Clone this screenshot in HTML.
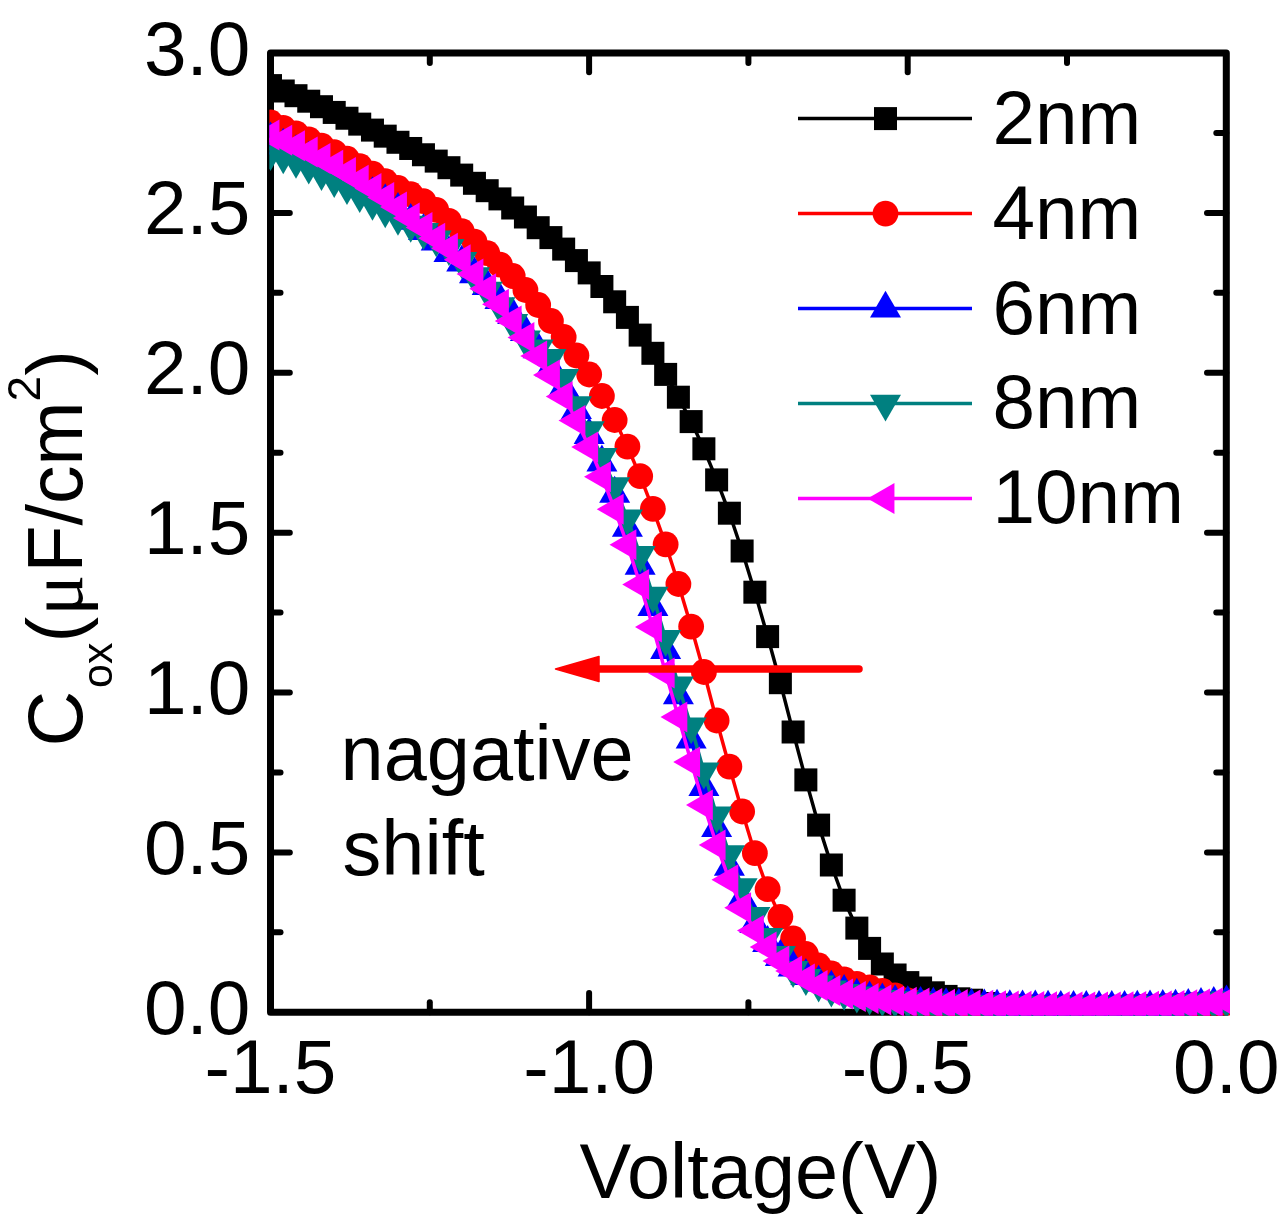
<!DOCTYPE html>
<html><head><meta charset="utf-8"><style>html,body{margin:0;padding:0;background:#fff;width:1280px;height:1216px;overflow:hidden}svg{display:block}</style></head>
<body><svg width="1280" height="1216" viewBox="0 0 1280 1216">
<defs><clipPath id="pc"><rect x="269.3" y="49" width="960.7" height="966.8"/></clipPath></defs>
<rect width="1280" height="1216" fill="#fff"/>
<g stroke="#000" stroke-width="6.0" stroke-linecap="round"><line x1="270.5" y1="932.36" x2="280.50" y2="932.36"/><line x1="1226.3" y1="932.36" x2="1216.30" y2="932.36"/><line x1="270.5" y1="852.42" x2="289.80" y2="852.42"/><line x1="1226.3" y1="852.42" x2="1207.00" y2="852.42"/><line x1="270.5" y1="772.48" x2="280.50" y2="772.48"/><line x1="1226.3" y1="772.48" x2="1216.30" y2="772.48"/><line x1="270.5" y1="692.53" x2="289.80" y2="692.53"/><line x1="1226.3" y1="692.53" x2="1207.00" y2="692.53"/><line x1="270.5" y1="612.59" x2="280.50" y2="612.59"/><line x1="1226.3" y1="612.59" x2="1216.30" y2="612.59"/><line x1="270.5" y1="532.65" x2="289.80" y2="532.65"/><line x1="1226.3" y1="532.65" x2="1207.00" y2="532.65"/><line x1="270.5" y1="452.71" x2="280.50" y2="452.71"/><line x1="1226.3" y1="452.71" x2="1216.30" y2="452.71"/><line x1="270.5" y1="372.77" x2="289.80" y2="372.77"/><line x1="1226.3" y1="372.77" x2="1207.00" y2="372.77"/><line x1="270.5" y1="292.83" x2="280.50" y2="292.83"/><line x1="1226.3" y1="292.83" x2="1216.30" y2="292.83"/><line x1="270.5" y1="212.88" x2="289.80" y2="212.88"/><line x1="1226.3" y1="212.88" x2="1207.00" y2="212.88"/><line x1="270.5" y1="132.94" x2="280.50" y2="132.94"/><line x1="1226.3" y1="132.94" x2="1216.30" y2="132.94"/><line x1="429.80" y1="1012.3" x2="429.80" y2="1002.30"/><line x1="429.80" y1="53.0" x2="429.80" y2="63.00"/><line x1="589.10" y1="1012.3" x2="589.10" y2="993.00"/><line x1="589.10" y1="53.0" x2="589.10" y2="72.30"/><line x1="748.40" y1="1012.3" x2="748.40" y2="1002.30"/><line x1="748.40" y1="53.0" x2="748.40" y2="63.00"/><line x1="907.70" y1="1012.3" x2="907.70" y2="993.00"/><line x1="907.70" y1="53.0" x2="907.70" y2="72.30"/><line x1="1067.00" y1="1012.3" x2="1067.00" y2="1002.30"/><line x1="1067.00" y1="53.0" x2="1067.00" y2="63.00"/></g>
<rect x="270.5" y="53.0" width="955.8" height="959.3" fill="none" stroke="#000" stroke-width="7.0" stroke-linejoin="round"/>
<g clip-path="url(#pc)"><g fill="#000000"><polyline points="270.50,85.60 283.25,91.00 295.99,95.70 308.74,101.20 321.49,106.70 334.23,112.43 346.98,118.24 359.73,124.13 372.47,130.10 385.22,136.15 397.97,142.28 410.71,148.48 423.46,154.75 436.21,161.10 448.95,167.70 461.70,175.10 474.45,183.30 487.19,190.70 499.94,198.90 512.69,208.00 525.43,217.00 538.18,227.70 550.93,237.60 563.67,249.10 576.42,260.60 589.17,272.90 601.91,286.50 614.66,301.80 627.41,317.40 640.15,335.10 652.90,353.30 665.65,374.40 678.39,397.20 691.14,421.60 703.89,448.80 716.63,479.90 729.38,513.20 742.13,551.00 754.87,592.20 767.62,636.60 780.37,682.70 793.11,732.00 805.86,779.90 818.61,825.10 831.35,865.00 844.10,900.20 856.85,928.10 869.59,948.40 882.34,964.00 895.09,975.00 907.83,982.60 920.58,988.00 933.33,992.80 946.07,996.40 958.82,998.80 971.57,1000.20 984.31,1003.50 997.06,1005.00 1009.81,1006.00 1022.55,1006.23 1035.30,1006.38 1048.05,1006.47 1060.79,1006.50 1073.54,1006.50 1086.29,1006.50 1099.03,1006.50 1111.78,1006.50 1124.53,1006.41 1137.27,1006.17 1150.02,1005.85 1162.77,1005.50 1175.51,1005.10 1188.26,1004.58 1201.01,1004.00 1213.75,1003.31 1226.50,1002.50" fill="none" stroke="#000000" stroke-width="3.5" stroke-linejoin="round"/><rect x="259.00" y="74.10" width="23.00" height="23.00"/><rect x="271.75" y="79.50" width="23.00" height="23.00"/><rect x="284.49" y="84.20" width="23.00" height="23.00"/><rect x="297.24" y="89.70" width="23.00" height="23.00"/><rect x="309.99" y="95.20" width="23.00" height="23.00"/><rect x="322.73" y="100.93" width="23.00" height="23.00"/><rect x="335.48" y="106.74" width="23.00" height="23.00"/><rect x="348.23" y="112.63" width="23.00" height="23.00"/><rect x="360.97" y="118.60" width="23.00" height="23.00"/><rect x="373.72" y="124.65" width="23.00" height="23.00"/><rect x="386.47" y="130.78" width="23.00" height="23.00"/><rect x="399.21" y="136.98" width="23.00" height="23.00"/><rect x="411.96" y="143.25" width="23.00" height="23.00"/><rect x="424.71" y="149.60" width="23.00" height="23.00"/><rect x="437.45" y="156.20" width="23.00" height="23.00"/><rect x="450.20" y="163.60" width="23.00" height="23.00"/><rect x="462.95" y="171.80" width="23.00" height="23.00"/><rect x="475.69" y="179.20" width="23.00" height="23.00"/><rect x="488.44" y="187.40" width="23.00" height="23.00"/><rect x="501.19" y="196.50" width="23.00" height="23.00"/><rect x="513.93" y="205.50" width="23.00" height="23.00"/><rect x="526.68" y="216.20" width="23.00" height="23.00"/><rect x="539.43" y="226.10" width="23.00" height="23.00"/><rect x="552.17" y="237.60" width="23.00" height="23.00"/><rect x="564.92" y="249.10" width="23.00" height="23.00"/><rect x="577.67" y="261.40" width="23.00" height="23.00"/><rect x="590.41" y="275.00" width="23.00" height="23.00"/><rect x="603.16" y="290.30" width="23.00" height="23.00"/><rect x="615.91" y="305.90" width="23.00" height="23.00"/><rect x="628.65" y="323.60" width="23.00" height="23.00"/><rect x="641.40" y="341.80" width="23.00" height="23.00"/><rect x="654.15" y="362.90" width="23.00" height="23.00"/><rect x="666.89" y="385.70" width="23.00" height="23.00"/><rect x="679.64" y="410.10" width="23.00" height="23.00"/><rect x="692.39" y="437.30" width="23.00" height="23.00"/><rect x="705.13" y="468.40" width="23.00" height="23.00"/><rect x="717.88" y="501.70" width="23.00" height="23.00"/><rect x="730.63" y="539.50" width="23.00" height="23.00"/><rect x="743.37" y="580.70" width="23.00" height="23.00"/><rect x="756.12" y="625.10" width="23.00" height="23.00"/><rect x="768.87" y="671.20" width="23.00" height="23.00"/><rect x="781.61" y="720.50" width="23.00" height="23.00"/><rect x="794.36" y="768.40" width="23.00" height="23.00"/><rect x="807.11" y="813.60" width="23.00" height="23.00"/><rect x="819.85" y="853.50" width="23.00" height="23.00"/><rect x="832.60" y="888.70" width="23.00" height="23.00"/><rect x="845.35" y="916.60" width="23.00" height="23.00"/><rect x="858.09" y="936.90" width="23.00" height="23.00"/><rect x="870.84" y="952.50" width="23.00" height="23.00"/><rect x="883.59" y="963.50" width="23.00" height="23.00"/><rect x="896.33" y="971.10" width="23.00" height="23.00"/><rect x="909.08" y="976.50" width="23.00" height="23.00"/><rect x="921.83" y="981.30" width="23.00" height="23.00"/><rect x="934.57" y="984.90" width="23.00" height="23.00"/><rect x="947.32" y="987.30" width="23.00" height="23.00"/><rect x="960.07" y="988.70" width="23.00" height="23.00"/><rect x="972.81" y="992.00" width="23.00" height="23.00"/><rect x="985.56" y="993.50" width="23.00" height="23.00"/><rect x="998.31" y="994.50" width="23.00" height="23.00"/><rect x="1011.05" y="994.73" width="23.00" height="23.00"/><rect x="1023.80" y="994.88" width="23.00" height="23.00"/><rect x="1036.55" y="994.97" width="23.00" height="23.00"/><rect x="1049.29" y="995.00" width="23.00" height="23.00"/><rect x="1062.04" y="995.00" width="23.00" height="23.00"/><rect x="1074.79" y="995.00" width="23.00" height="23.00"/><rect x="1087.53" y="995.00" width="23.00" height="23.00"/><rect x="1100.28" y="995.00" width="23.00" height="23.00"/><rect x="1113.03" y="994.91" width="23.00" height="23.00"/><rect x="1125.77" y="994.67" width="23.00" height="23.00"/><rect x="1138.52" y="994.35" width="23.00" height="23.00"/><rect x="1151.27" y="994.00" width="23.00" height="23.00"/><rect x="1164.01" y="993.60" width="23.00" height="23.00"/><rect x="1176.76" y="993.08" width="23.00" height="23.00"/><rect x="1189.51" y="992.50" width="23.00" height="23.00"/><rect x="1202.25" y="991.81" width="23.00" height="23.00"/><rect x="1215.00" y="991.00" width="23.00" height="23.00"/></g><g fill="#ff0000"><polyline points="270.50,122.50 283.25,127.83 295.99,133.48 308.74,139.42 321.49,145.62 334.23,152.04 346.98,158.76 359.73,166.08 372.47,173.67 385.22,181.14 397.97,188.01 410.71,194.27 423.46,201.04 436.21,209.78 448.95,220.86 461.70,231.15 474.45,241.60 487.19,253.17 499.94,264.55 512.69,276.00 525.43,290.00 538.18,305.00 550.93,321.00 563.67,337.00 576.42,355.50 589.17,374.50 601.91,396.00 614.66,420.00 627.41,446.60 640.15,476.20 652.90,508.80 665.65,544.30 678.39,584.00 691.14,626.60 703.89,672.00 716.63,720.50 729.38,766.60 742.13,811.50 754.87,853.20 767.62,889.20 780.37,916.80 793.11,938.50 805.86,954.00 818.61,965.50 831.35,973.50 844.10,979.50 856.85,984.00 869.59,987.50 882.34,991.00 895.09,995.50 907.83,1000.50 920.58,1002.65 933.33,1004.00 946.07,1005.09 958.82,1005.96 971.57,1006.50 984.31,1006.82 997.06,1007.10 1009.81,1007.31 1022.55,1007.45 1035.30,1007.50 1048.05,1007.50 1060.79,1007.50 1073.54,1007.50 1086.29,1007.50 1099.03,1007.50 1111.78,1007.44 1124.53,1007.29 1137.27,1007.07 1150.02,1006.79 1162.77,1006.50 1175.51,1006.13 1188.26,1005.63 1201.01,1005.00 1213.75,1004.13 1226.50,1003.00" fill="none" stroke="#ff0000" stroke-width="3.5" stroke-linejoin="round"/><circle cx="270.50" cy="122.50" r="12.90"/><circle cx="283.25" cy="127.83" r="12.90"/><circle cx="295.99" cy="133.48" r="12.90"/><circle cx="308.74" cy="139.42" r="12.90"/><circle cx="321.49" cy="145.62" r="12.90"/><circle cx="334.23" cy="152.04" r="12.90"/><circle cx="346.98" cy="158.76" r="12.90"/><circle cx="359.73" cy="166.08" r="12.90"/><circle cx="372.47" cy="173.67" r="12.90"/><circle cx="385.22" cy="181.14" r="12.90"/><circle cx="397.97" cy="188.01" r="12.90"/><circle cx="410.71" cy="194.27" r="12.90"/><circle cx="423.46" cy="201.04" r="12.90"/><circle cx="436.21" cy="209.78" r="12.90"/><circle cx="448.95" cy="220.86" r="12.90"/><circle cx="461.70" cy="231.15" r="12.90"/><circle cx="474.45" cy="241.60" r="12.90"/><circle cx="487.19" cy="253.17" r="12.90"/><circle cx="499.94" cy="264.55" r="12.90"/><circle cx="512.69" cy="276.00" r="12.90"/><circle cx="525.43" cy="290.00" r="12.90"/><circle cx="538.18" cy="305.00" r="12.90"/><circle cx="550.93" cy="321.00" r="12.90"/><circle cx="563.67" cy="337.00" r="12.90"/><circle cx="576.42" cy="355.50" r="12.90"/><circle cx="589.17" cy="374.50" r="12.90"/><circle cx="601.91" cy="396.00" r="12.90"/><circle cx="614.66" cy="420.00" r="12.90"/><circle cx="627.41" cy="446.60" r="12.90"/><circle cx="640.15" cy="476.20" r="12.90"/><circle cx="652.90" cy="508.80" r="12.90"/><circle cx="665.65" cy="544.30" r="12.90"/><circle cx="678.39" cy="584.00" r="12.90"/><circle cx="691.14" cy="626.60" r="12.90"/><circle cx="703.89" cy="672.00" r="12.90"/><circle cx="716.63" cy="720.50" r="12.90"/><circle cx="729.38" cy="766.60" r="12.90"/><circle cx="742.13" cy="811.50" r="12.90"/><circle cx="754.87" cy="853.20" r="12.90"/><circle cx="767.62" cy="889.20" r="12.90"/><circle cx="780.37" cy="916.80" r="12.90"/><circle cx="793.11" cy="938.50" r="12.90"/><circle cx="805.86" cy="954.00" r="12.90"/><circle cx="818.61" cy="965.50" r="12.90"/><circle cx="831.35" cy="973.50" r="12.90"/><circle cx="844.10" cy="979.50" r="12.90"/><circle cx="856.85" cy="984.00" r="12.90"/><circle cx="869.59" cy="987.50" r="12.90"/><circle cx="882.34" cy="991.00" r="12.90"/><circle cx="895.09" cy="995.50" r="12.90"/><circle cx="907.83" cy="1000.50" r="12.90"/><circle cx="920.58" cy="1002.65" r="12.90"/><circle cx="933.33" cy="1004.00" r="12.90"/><circle cx="946.07" cy="1005.09" r="12.90"/><circle cx="958.82" cy="1005.96" r="12.90"/><circle cx="971.57" cy="1006.50" r="12.90"/><circle cx="984.31" cy="1006.82" r="12.90"/><circle cx="997.06" cy="1007.10" r="12.90"/><circle cx="1009.81" cy="1007.31" r="12.90"/><circle cx="1022.55" cy="1007.45" r="12.90"/><circle cx="1035.30" cy="1007.50" r="12.90"/><circle cx="1048.05" cy="1007.50" r="12.90"/><circle cx="1060.79" cy="1007.50" r="12.90"/><circle cx="1073.54" cy="1007.50" r="12.90"/><circle cx="1086.29" cy="1007.50" r="12.90"/><circle cx="1099.03" cy="1007.50" r="12.90"/><circle cx="1111.78" cy="1007.44" r="12.90"/><circle cx="1124.53" cy="1007.29" r="12.90"/><circle cx="1137.27" cy="1007.07" r="12.90"/><circle cx="1150.02" cy="1006.79" r="12.90"/><circle cx="1162.77" cy="1006.50" r="12.90"/><circle cx="1175.51" cy="1006.13" r="12.90"/><circle cx="1188.26" cy="1005.63" r="12.90"/><circle cx="1201.01" cy="1005.00" r="12.90"/><circle cx="1213.75" cy="1004.13" r="12.90"/><circle cx="1226.50" cy="1003.00" r="12.90"/></g><g fill="#0000ff"><polyline points="270.50,139.42 283.25,145.62 295.99,152.04 308.74,158.76 321.49,166.08 334.23,173.67 346.98,181.14 359.73,188.01 372.47,194.27 385.22,201.04 397.97,209.78 410.71,220.86 423.46,231.15 436.21,241.60 448.95,253.17 461.70,262.60 474.45,274.40 487.19,286.10 499.94,300.00 512.69,315.00 525.43,332.03 538.18,349.36 550.93,367.66 563.67,387.65 576.42,410.10 589.17,434.95 601.91,462.51 614.66,493.77 627.41,527.89 640.15,565.70 652.90,607.08 665.65,650.00 678.39,695.30 691.14,739.60 703.89,787.00 716.63,828.10 729.38,866.80 742.13,898.90 754.87,924.00 767.62,943.00 780.37,957.00 793.11,967.60 805.86,976.00 818.61,982.60 831.35,987.60 844.10,992.00 856.85,995.66 869.59,998.50 882.34,1000.46 895.09,1002.03 907.83,1003.21 920.58,1004.00 933.33,1004.62 946.07,1005.15 958.82,1005.60 971.57,1006.00 984.31,1006.37 997.06,1006.73 1009.81,1007.05 1022.55,1007.31 1035.30,1007.50 1048.05,1007.65 1060.79,1007.78 1073.54,1007.90 1086.29,1007.97 1099.03,1008.00 1111.78,1007.95 1124.53,1007.80 1137.27,1007.58 1150.02,1007.31 1162.77,1007.00 1175.51,1006.54 1188.26,1005.84 1201.01,1005.00 1213.75,1003.90 1226.50,1002.50" fill="none" stroke="#0000ff" stroke-width="3.5" stroke-linejoin="round"/><polygon points="270.50,121.52 286.00,148.37 255.00,148.37"/><polygon points="283.25,127.72 298.75,154.56 267.75,154.56"/><polygon points="295.99,134.14 311.49,160.99 280.49,160.99"/><polygon points="308.74,140.87 324.24,167.71 293.24,167.71"/><polygon points="321.49,148.18 336.99,175.03 305.99,175.03"/><polygon points="334.23,155.77 349.73,182.62 318.73,182.62"/><polygon points="346.98,163.24 362.48,190.08 331.48,190.08"/><polygon points="359.73,170.11 375.23,196.96 344.23,196.96"/><polygon points="372.47,176.37 387.97,203.22 356.97,203.22"/><polygon points="385.22,183.15 400.72,209.99 369.72,209.99"/><polygon points="397.97,191.88 413.47,218.72 382.47,218.72"/><polygon points="410.71,202.96 426.21,229.81 395.21,229.81"/><polygon points="423.46,213.25 438.96,240.10 407.96,240.10"/><polygon points="436.21,223.70 451.71,250.55 420.71,250.55"/><polygon points="448.95,235.28 464.45,262.12 433.45,262.12"/><polygon points="461.70,244.70 477.20,271.55 446.20,271.55"/><polygon points="474.45,256.50 489.95,283.35 458.95,283.35"/><polygon points="487.19,268.20 502.69,295.05 471.69,295.05"/><polygon points="499.94,282.10 515.44,308.95 484.44,308.95"/><polygon points="512.69,297.10 528.19,323.95 497.19,323.95"/><polygon points="525.43,314.13 540.93,340.98 509.93,340.98"/><polygon points="538.18,331.46 553.68,358.30 522.68,358.30"/><polygon points="550.93,349.76 566.43,376.61 535.43,376.61"/><polygon points="563.67,369.75 579.17,396.60 548.17,396.60"/><polygon points="576.42,392.20 591.92,419.04 560.92,419.04"/><polygon points="589.17,417.06 604.67,443.90 573.67,443.90"/><polygon points="601.91,444.61 617.41,471.46 586.41,471.46"/><polygon points="614.66,475.87 630.16,502.71 599.16,502.71"/><polygon points="627.41,509.99 642.91,536.84 611.91,536.84"/><polygon points="640.15,547.80 655.65,574.65 624.65,574.65"/><polygon points="652.90,589.18 668.40,616.03 637.40,616.03"/><polygon points="665.65,632.10 681.15,658.95 650.15,658.95"/><polygon points="678.39,677.40 693.89,704.25 662.89,704.25"/><polygon points="691.14,721.70 706.64,748.55 675.64,748.55"/><polygon points="703.89,769.10 719.39,795.95 688.39,795.95"/><polygon points="716.63,810.20 732.13,837.05 701.13,837.05"/><polygon points="729.38,848.90 744.88,875.75 713.88,875.75"/><polygon points="742.13,881.00 757.63,907.85 726.63,907.85"/><polygon points="754.87,906.10 770.37,932.95 739.37,932.95"/><polygon points="767.62,925.10 783.12,951.95 752.12,951.95"/><polygon points="780.37,939.10 795.87,965.95 764.87,965.95"/><polygon points="793.11,949.70 808.61,976.55 777.61,976.55"/><polygon points="805.86,958.10 821.36,984.95 790.36,984.95"/><polygon points="818.61,964.70 834.11,991.55 803.11,991.55"/><polygon points="831.35,969.70 846.85,996.55 815.85,996.55"/><polygon points="844.10,974.10 859.60,1000.95 828.60,1000.95"/><polygon points="856.85,977.76 872.35,1004.61 841.35,1004.61"/><polygon points="869.59,980.60 885.09,1007.45 854.09,1007.45"/><polygon points="882.34,982.56 897.84,1009.41 866.84,1009.41"/><polygon points="895.09,984.13 910.59,1010.98 879.59,1010.98"/><polygon points="907.83,985.31 923.33,1012.16 892.33,1012.16"/><polygon points="920.58,986.10 936.08,1012.95 905.08,1012.95"/><polygon points="933.33,986.72 948.83,1013.57 917.83,1013.57"/><polygon points="946.07,987.25 961.57,1014.10 930.57,1014.10"/><polygon points="958.82,987.70 974.32,1014.55 943.32,1014.55"/><polygon points="971.57,988.10 987.07,1014.95 956.07,1014.95"/><polygon points="984.31,988.48 999.81,1015.32 968.81,1015.32"/><polygon points="997.06,988.83 1012.56,1015.68 981.56,1015.68"/><polygon points="1009.81,989.15 1025.31,1015.99 994.31,1015.99"/><polygon points="1022.55,989.41 1038.05,1016.26 1007.05,1016.26"/><polygon points="1035.30,989.60 1050.80,1016.45 1019.80,1016.45"/><polygon points="1048.05,989.75 1063.55,1016.60 1032.55,1016.60"/><polygon points="1060.79,989.89 1076.29,1016.73 1045.29,1016.73"/><polygon points="1073.54,990.00 1089.04,1016.84 1058.04,1016.84"/><polygon points="1086.29,990.07 1101.79,1016.92 1070.79,1016.92"/><polygon points="1099.03,990.10 1114.53,1016.95 1083.53,1016.95"/><polygon points="1111.78,990.05 1127.28,1016.90 1096.28,1016.90"/><polygon points="1124.53,989.90 1140.03,1016.75 1109.03,1016.75"/><polygon points="1137.27,989.69 1152.77,1016.53 1121.77,1016.53"/><polygon points="1150.02,989.41 1165.52,1016.26 1134.52,1016.26"/><polygon points="1162.77,989.10 1178.27,1015.95 1147.27,1015.95"/><polygon points="1175.51,988.64 1191.01,1015.48 1160.01,1015.48"/><polygon points="1188.26,987.94 1203.76,1014.79 1172.76,1014.79"/><polygon points="1201.01,987.10 1216.51,1013.95 1185.51,1013.95"/><polygon points="1213.75,986.00 1229.25,1012.85 1198.25,1012.85"/><polygon points="1226.50,984.60 1242.00,1011.45 1211.00,1011.45"/></g><g fill="#008080"><polyline points="270.50,153.00 283.25,156.30 295.99,160.94 308.74,166.61 321.49,173.05 334.23,179.98 346.98,187.13 359.73,195.18 372.47,202.75 385.22,210.25 397.97,217.73 410.71,224.79 423.46,232.00 436.21,239.34 448.95,248.00 461.70,261.01 474.45,276.10 487.19,290.70 499.94,306.30 512.69,322.90 525.43,339.50 538.18,348.52 550.93,358.00 563.67,378.00 576.42,405.29 589.17,430.31 601.91,456.90 614.66,486.30 627.41,518.41 640.15,555.02 652.90,595.63 665.65,639.02 678.39,685.42 691.14,726.40 703.89,771.50 716.63,815.50 729.38,854.20 742.13,887.10 754.87,915.90 767.62,937.00 780.37,955.00 793.11,970.00 805.86,978.00 818.61,984.50 831.35,989.50 844.10,992.91 856.85,995.50 869.59,997.48 882.34,999.00 895.09,1000.20 907.83,1001.21 920.58,1002.00 933.33,1002.62 946.07,1003.15 958.82,1003.60 971.57,1004.00 984.31,1004.37 997.06,1004.73 1009.81,1005.05 1022.55,1005.31 1035.30,1005.50 1048.05,1005.65 1060.79,1005.78 1073.54,1005.90 1086.29,1005.97 1099.03,1006.00 1111.78,1005.95 1124.53,1005.80 1137.27,1005.58 1150.02,1005.31 1162.77,1005.00 1175.51,1004.54 1188.26,1003.84 1201.01,1003.00 1213.75,1001.90 1226.50,1000.50" fill="none" stroke="#008080" stroke-width="3.5" stroke-linejoin="round"/><polygon points="270.50,170.90 286.00,144.05 255.00,144.05"/><polygon points="283.25,174.20 298.75,147.35 267.75,147.35"/><polygon points="295.99,178.84 311.49,151.99 280.49,151.99"/><polygon points="308.74,184.51 324.24,157.66 293.24,157.66"/><polygon points="321.49,190.95 336.99,164.10 305.99,164.10"/><polygon points="334.23,197.88 349.73,171.03 318.73,171.03"/><polygon points="346.98,205.03 362.48,178.18 331.48,178.18"/><polygon points="359.73,213.07 375.23,186.23 344.23,186.23"/><polygon points="372.47,220.65 387.97,193.81 356.97,193.81"/><polygon points="385.22,228.15 400.72,201.30 369.72,201.30"/><polygon points="397.97,235.63 413.47,208.78 382.47,208.78"/><polygon points="410.71,242.69 426.21,215.85 395.21,215.85"/><polygon points="423.46,249.90 438.96,223.05 407.96,223.05"/><polygon points="436.21,257.24 451.71,230.39 420.71,230.39"/><polygon points="448.95,265.90 464.45,239.05 433.45,239.05"/><polygon points="461.70,278.91 477.20,252.06 446.20,252.06"/><polygon points="474.45,294.00 489.95,267.15 458.95,267.15"/><polygon points="487.19,308.60 502.69,281.75 471.69,281.75"/><polygon points="499.94,324.20 515.44,297.35 484.44,297.35"/><polygon points="512.69,340.80 528.19,313.95 497.19,313.95"/><polygon points="525.43,357.40 540.93,330.55 509.93,330.55"/><polygon points="538.18,366.42 553.68,339.57 522.68,339.57"/><polygon points="550.93,375.90 566.43,349.05 535.43,349.05"/><polygon points="563.67,395.90 579.17,369.05 548.17,369.05"/><polygon points="576.42,423.19 591.92,396.34 560.92,396.34"/><polygon points="589.17,448.20 604.67,421.36 573.67,421.36"/><polygon points="601.91,474.80 617.41,447.96 586.41,447.96"/><polygon points="614.66,504.20 630.16,477.35 599.16,477.35"/><polygon points="627.41,536.31 642.91,509.46 611.91,509.46"/><polygon points="640.15,572.91 655.65,546.07 624.65,546.07"/><polygon points="652.90,613.53 668.40,586.68 637.40,586.68"/><polygon points="665.65,656.92 681.15,630.07 650.15,630.07"/><polygon points="678.39,703.31 693.89,676.47 662.89,676.47"/><polygon points="691.14,744.30 706.64,717.45 675.64,717.45"/><polygon points="703.89,789.40 719.39,762.55 688.39,762.55"/><polygon points="716.63,833.40 732.13,806.55 701.13,806.55"/><polygon points="729.38,872.10 744.88,845.25 713.88,845.25"/><polygon points="742.13,905.00 757.63,878.15 726.63,878.15"/><polygon points="754.87,933.80 770.37,906.95 739.37,906.95"/><polygon points="767.62,954.90 783.12,928.05 752.12,928.05"/><polygon points="780.37,972.90 795.87,946.05 764.87,946.05"/><polygon points="793.11,987.90 808.61,961.05 777.61,961.05"/><polygon points="805.86,995.90 821.36,969.05 790.36,969.05"/><polygon points="818.61,1002.40 834.11,975.55 803.11,975.55"/><polygon points="831.35,1007.40 846.85,980.55 815.85,980.55"/><polygon points="844.10,1010.81 859.60,983.96 828.60,983.96"/><polygon points="856.85,1013.40 872.35,986.55 841.35,986.55"/><polygon points="869.59,1015.38 885.09,988.53 854.09,988.53"/><polygon points="882.34,1016.90 897.84,990.05 866.84,990.05"/><polygon points="895.09,1018.10 910.59,991.25 879.59,991.25"/><polygon points="907.83,1019.11 923.33,992.26 892.33,992.26"/><polygon points="920.58,1019.90 936.08,993.05 905.08,993.05"/><polygon points="933.33,1020.52 948.83,993.67 917.83,993.67"/><polygon points="946.07,1021.05 961.57,994.20 930.57,994.20"/><polygon points="958.82,1021.50 974.32,994.65 943.32,994.65"/><polygon points="971.57,1021.90 987.07,995.05 956.07,995.05"/><polygon points="984.31,1022.27 999.81,995.43 968.81,995.43"/><polygon points="997.06,1022.63 1012.56,995.78 981.56,995.78"/><polygon points="1009.81,1022.94 1025.31,996.10 994.31,996.10"/><polygon points="1022.55,1023.21 1038.05,996.36 1007.05,996.36"/><polygon points="1035.30,1023.40 1050.80,996.55 1019.80,996.55"/><polygon points="1048.05,1023.55 1063.55,996.70 1032.55,996.70"/><polygon points="1060.79,1023.68 1076.29,996.84 1045.29,996.84"/><polygon points="1073.54,1023.79 1089.04,996.95 1058.04,996.95"/><polygon points="1086.29,1023.87 1101.79,997.02 1070.79,997.02"/><polygon points="1099.03,1023.90 1114.53,997.05 1083.53,997.05"/><polygon points="1111.78,1023.85 1127.28,997.00 1096.28,997.00"/><polygon points="1124.53,1023.70 1140.03,996.85 1109.03,996.85"/><polygon points="1137.27,1023.48 1152.77,996.64 1121.77,996.64"/><polygon points="1150.02,1023.21 1165.52,996.36 1134.52,996.36"/><polygon points="1162.77,1022.90 1178.27,996.05 1147.27,996.05"/><polygon points="1175.51,1022.43 1191.01,995.59 1160.01,995.59"/><polygon points="1188.26,1021.74 1203.76,994.89 1172.76,994.89"/><polygon points="1201.01,1020.90 1216.51,994.05 1185.51,994.05"/><polygon points="1213.75,1019.80 1229.25,992.95 1198.25,992.95"/><polygon points="1226.50,1018.40 1242.00,991.55 1211.00,991.55"/></g><g fill="#ff00ff"><polyline points="270.50,135.00 283.25,140.15 295.99,145.81 308.74,151.93 321.49,158.44 334.23,165.31 346.98,172.52 359.73,180.26 372.47,188.57 385.22,197.48 397.97,207.00 410.71,218.00 423.46,227.60 436.21,238.30 448.95,248.20 461.70,259.70 474.45,274.10 487.19,288.70 499.94,304.30 512.69,320.90 525.43,337.50 538.18,356.00 550.93,375.00 563.67,396.50 576.42,420.50 589.17,447.10 601.91,476.70 614.66,509.30 627.41,544.80 640.15,584.50 652.90,627.10 665.65,673.00 678.39,717.00 691.14,762.00 703.89,805.00 716.63,845.00 729.38,879.80 742.13,907.80 754.87,930.60 767.62,947.00 780.37,961.00 793.11,971.00 805.86,979.00 818.61,985.50 831.35,990.50 844.10,993.91 856.85,996.50 869.59,998.48 882.34,1000.00 895.09,1001.20 907.83,1002.21 920.58,1003.00 933.33,1003.62 946.07,1004.15 958.82,1004.60 971.57,1005.00 984.31,1005.37 997.06,1005.73 1009.81,1006.05 1022.55,1006.31 1035.30,1006.50 1048.05,1006.65 1060.79,1006.78 1073.54,1006.90 1086.29,1006.97 1099.03,1007.00 1111.78,1006.95 1124.53,1006.80 1137.27,1006.58 1150.02,1006.31 1162.77,1006.00 1175.51,1005.54 1188.26,1004.84 1201.01,1004.00 1213.75,1002.90 1226.50,1001.50" fill="none" stroke="#ff00ff" stroke-width="3.5" stroke-linejoin="round"/><polygon points="252.60,135.00 279.45,119.50 279.45,150.50"/><polygon points="265.35,140.15 292.20,124.65 292.20,155.65"/><polygon points="278.10,145.81 304.94,130.31 304.94,161.31"/><polygon points="290.84,151.93 317.69,136.43 317.69,167.43"/><polygon points="303.59,158.44 330.44,142.94 330.44,173.94"/><polygon points="316.34,165.31 343.18,149.81 343.18,180.81"/><polygon points="329.08,172.52 355.93,157.02 355.93,188.02"/><polygon points="341.83,180.26 368.68,164.76 368.68,195.76"/><polygon points="354.58,188.57 381.42,173.07 381.42,204.07"/><polygon points="367.32,197.48 394.17,181.98 394.17,212.98"/><polygon points="380.07,207.00 406.92,191.50 406.92,222.50"/><polygon points="392.82,218.00 419.66,202.50 419.66,233.50"/><polygon points="405.56,227.60 432.41,212.10 432.41,243.10"/><polygon points="418.31,238.30 445.16,222.80 445.16,253.80"/><polygon points="431.06,248.20 457.90,232.70 457.90,263.70"/><polygon points="443.80,259.70 470.65,244.20 470.65,275.20"/><polygon points="456.55,274.10 483.40,258.60 483.40,289.60"/><polygon points="469.30,288.70 496.14,273.20 496.14,304.20"/><polygon points="482.04,304.30 508.89,288.80 508.89,319.80"/><polygon points="494.79,320.90 521.64,305.40 521.64,336.40"/><polygon points="507.54,337.50 534.38,322.00 534.38,353.00"/><polygon points="520.28,356.00 547.13,340.50 547.13,371.50"/><polygon points="533.03,375.00 559.88,359.50 559.88,390.50"/><polygon points="545.78,396.50 572.62,381.00 572.62,412.00"/><polygon points="558.52,420.50 585.37,405.00 585.37,436.00"/><polygon points="571.27,447.10 598.12,431.60 598.12,462.60"/><polygon points="584.02,476.70 610.86,461.20 610.86,492.20"/><polygon points="596.76,509.30 623.61,493.80 623.61,524.80"/><polygon points="609.51,544.80 636.36,529.30 636.36,560.30"/><polygon points="622.26,584.50 649.10,569.00 649.10,600.00"/><polygon points="635.00,627.10 661.85,611.60 661.85,642.60"/><polygon points="647.75,673.00 674.60,657.50 674.60,688.50"/><polygon points="660.50,717.00 687.34,701.50 687.34,732.50"/><polygon points="673.24,762.00 700.09,746.50 700.09,777.50"/><polygon points="685.99,805.00 712.84,789.50 712.84,820.50"/><polygon points="698.74,845.00 725.58,829.50 725.58,860.50"/><polygon points="711.48,879.80 738.33,864.30 738.33,895.30"/><polygon points="724.23,907.80 751.08,892.30 751.08,923.30"/><polygon points="736.98,930.60 763.82,915.10 763.82,946.10"/><polygon points="749.72,947.00 776.57,931.50 776.57,962.50"/><polygon points="762.47,961.00 789.32,945.50 789.32,976.50"/><polygon points="775.22,971.00 802.06,955.50 802.06,986.50"/><polygon points="787.96,979.00 814.81,963.50 814.81,994.50"/><polygon points="800.71,985.50 827.56,970.00 827.56,1001.00"/><polygon points="813.46,990.50 840.30,975.00 840.30,1006.00"/><polygon points="826.20,993.91 853.05,978.41 853.05,1009.41"/><polygon points="838.95,996.50 865.80,981.00 865.80,1012.00"/><polygon points="851.70,998.48 878.54,982.98 878.54,1013.98"/><polygon points="864.44,1000.00 891.29,984.50 891.29,1015.50"/><polygon points="877.19,1001.20 904.04,985.70 904.04,1016.70"/><polygon points="889.94,1002.21 916.78,986.71 916.78,1017.71"/><polygon points="902.68,1003.00 929.53,987.50 929.53,1018.50"/><polygon points="915.43,1003.62 942.28,988.12 942.28,1019.12"/><polygon points="928.18,1004.15 955.02,988.65 955.02,1019.65"/><polygon points="940.92,1004.60 967.77,989.10 967.77,1020.10"/><polygon points="953.67,1005.00 980.52,989.50 980.52,1020.50"/><polygon points="966.42,1005.37 993.26,989.87 993.26,1020.87"/><polygon points="979.16,1005.73 1006.01,990.23 1006.01,1021.23"/><polygon points="991.91,1006.05 1018.76,990.55 1018.76,1021.55"/><polygon points="1004.66,1006.31 1031.50,990.81 1031.50,1021.81"/><polygon points="1017.40,1006.50 1044.25,991.00 1044.25,1022.00"/><polygon points="1030.15,1006.65 1057.00,991.15 1057.00,1022.15"/><polygon points="1042.90,1006.78 1069.74,991.28 1069.74,1022.28"/><polygon points="1055.64,1006.90 1082.49,991.40 1082.49,1022.40"/><polygon points="1068.39,1006.97 1095.24,991.47 1095.24,1022.47"/><polygon points="1081.14,1007.00 1107.98,991.50 1107.98,1022.50"/><polygon points="1093.88,1006.95 1120.73,991.45 1120.73,1022.45"/><polygon points="1106.63,1006.80 1133.48,991.30 1133.48,1022.30"/><polygon points="1119.38,1006.58 1146.22,991.08 1146.22,1022.08"/><polygon points="1132.12,1006.31 1158.97,990.81 1158.97,1021.81"/><polygon points="1144.87,1006.00 1171.72,990.50 1171.72,1021.50"/><polygon points="1157.62,1005.54 1184.46,990.04 1184.46,1021.04"/><polygon points="1170.36,1004.84 1197.21,989.34 1197.21,1020.34"/><polygon points="1183.11,1004.00 1209.96,988.50 1209.96,1019.50"/><polygon points="1195.86,1002.90 1222.70,987.40 1222.70,1018.40"/><polygon points="1208.60,1001.50 1235.45,986.00 1235.45,1017.00"/></g></g>
<g fill="#000000"><line x1="798" y1="118.60" x2="972" y2="118.60" stroke="#000000" stroke-width="3.5"/><rect x="874.00" y="107.10" width="23.00" height="23.00"/></g><g fill="#ff0000"><line x1="798" y1="213.60" x2="972" y2="213.60" stroke="#ff0000" stroke-width="3.5"/><circle cx="885.50" cy="213.60" r="12.90"/></g><g fill="#0000ff"><line x1="798" y1="308.60" x2="972" y2="308.60" stroke="#0000ff" stroke-width="3.5"/><polygon points="885.50,290.70 901.00,317.55 870.00,317.55"/></g><g fill="#008080"><line x1="798" y1="403.60" x2="972" y2="403.60" stroke="#008080" stroke-width="3.5"/><polygon points="885.50,421.50 901.00,394.65 870.00,394.65"/></g><g fill="#ff00ff"><line x1="798" y1="498.60" x2="972" y2="498.60" stroke="#ff00ff" stroke-width="3.5"/><polygon points="867.60,498.60 894.45,483.10 894.45,514.10"/></g>
<g fill="#ff0000"><line x1="595" y1="669" x2="859" y2="669" stroke="#ff0000" stroke-width="7.5" stroke-linecap="round"/><polygon points="555.5,669 599,656.5 599,681.5" stroke="#ff0000" stroke-width="1.5" stroke-linejoin="round"/></g>
<g font-family="'Liberation Sans', Arial, sans-serif" fill="#000"><text x="250.3" y="1033.80" text-anchor="end" font-size="76.5">0.0</text><text x="250.3" y="873.92" text-anchor="end" font-size="76.5">0.5</text><text x="250.3" y="714.03" text-anchor="end" font-size="76.5">1.0</text><text x="250.3" y="554.15" text-anchor="end" font-size="76.5">1.5</text><text x="250.3" y="394.27" text-anchor="end" font-size="76.5">2.0</text><text x="250.3" y="234.38" text-anchor="end" font-size="76.5">2.5</text><text x="250.3" y="74.50" text-anchor="end" font-size="76.5">3.0</text><text x="270.50" y="1092.5" text-anchor="middle" font-size="76.5">-1.5</text><text x="589.10" y="1092.5" text-anchor="middle" font-size="76.5">-1.0</text><text x="907.70" y="1092.5" text-anchor="middle" font-size="76.5">-0.5</text><text x="1226.30" y="1092.5" text-anchor="middle" font-size="76.5">0.0</text><text x="760.5" y="1197.5" text-anchor="middle" font-size="77.5">Voltage(V)</text><text transform="translate(82.2,746.5) rotate(-90)" font-size="77">C<tspan font-size="43" dx="3" dy="29.5">ox</tspan><tspan dy="-29.5">(</tspan><tspan dx="1" font-family="'Liberation Serif', serif">μ</tspan><tspan dx="2">F/cm</tspan><tspan font-size="46" dy="-42">2</tspan><tspan dy="42">)</tspan></text><text x="992.5" y="144.30" font-size="76.5">2nm</text><text x="992.5" y="238.90" font-size="76.5">4nm</text><text x="992.5" y="333.50" font-size="76.5">6nm</text><text x="992.5" y="428.10" font-size="76.5">8nm</text><text x="992.5" y="522.70" font-size="76.5">10nm</text><text x="340.6" y="779.9" font-size="77.5">nagative</text><text x="342.6" y="874.8" font-size="77.5">shift</text></g>
</svg></body></html>
